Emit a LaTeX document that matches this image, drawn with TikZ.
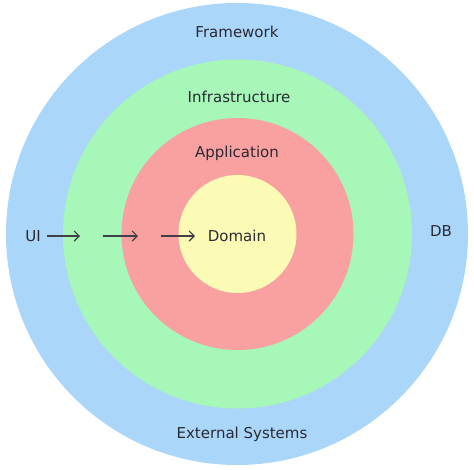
\documentclass[tikz,border=0pt]{standalone}
\usepackage{fontspec}
\setmainfont{DejaVu Sans}
\usetikzlibrary{arrows.meta}
\definecolor{frameblue}{HTML}{AAD6F9}
\definecolor{infragreen}{HTML}{A6F7B8}
\definecolor{appred}{HTML}{F9A1A0}
\definecolor{domyellow}{HTML}{FBFBB6}
\definecolor{labelgray}{HTML}{2A2A33}

\begin{document}
\begin{tikzpicture}[x=1pt,y=-1pt,
  layer/.style={font=\fontsize{15}{17}\selectfont,text=labelgray,inner sep=0pt},
  flow/.style={-{Straight Barb[length=5pt,width=10pt,line width=1.2pt]},draw=labelgray!90,line width=1.2pt}]
\useasboundingbox (0,0) rectangle (474,469);
% Rings from outside in
\fill[frameblue] (237,234) circle (231);
\fill[infragreen] (237.5,234) circle (174.5);
\fill[appred] (237.5,234) circle (116);
\fill[domyellow] (237.5,234) circle (59);

% Ring labels
\node[layer] (framework) at (237,32) {Framework};
\node[layer] (infra) at (239,97) {Infrastructure};
\node[layer] (app) at (237,153) {Application};
\node[layer] (domain) at (237,236) {Domain};
\node[layer] (ui) at (33,236) {UI};
\node[layer] (db) at (441,231) {DB};
\node[layer] (ext) at (242,434) {External Systems};

% Flow towards the centre
\coordinate (a1) at (47,236);
\coordinate (a2) at (80,236);
\coordinate (b1) at (103,236);
\coordinate (b2) at (138,236);
\coordinate (c1) at (161,236);
\coordinate (c2) at (195,236);
\draw[flow] (a1) -- (a2);
\draw[flow] (b1) -- (b2);
\draw[flow] (c1) -- (c2);
\end{tikzpicture}
\end{document}
